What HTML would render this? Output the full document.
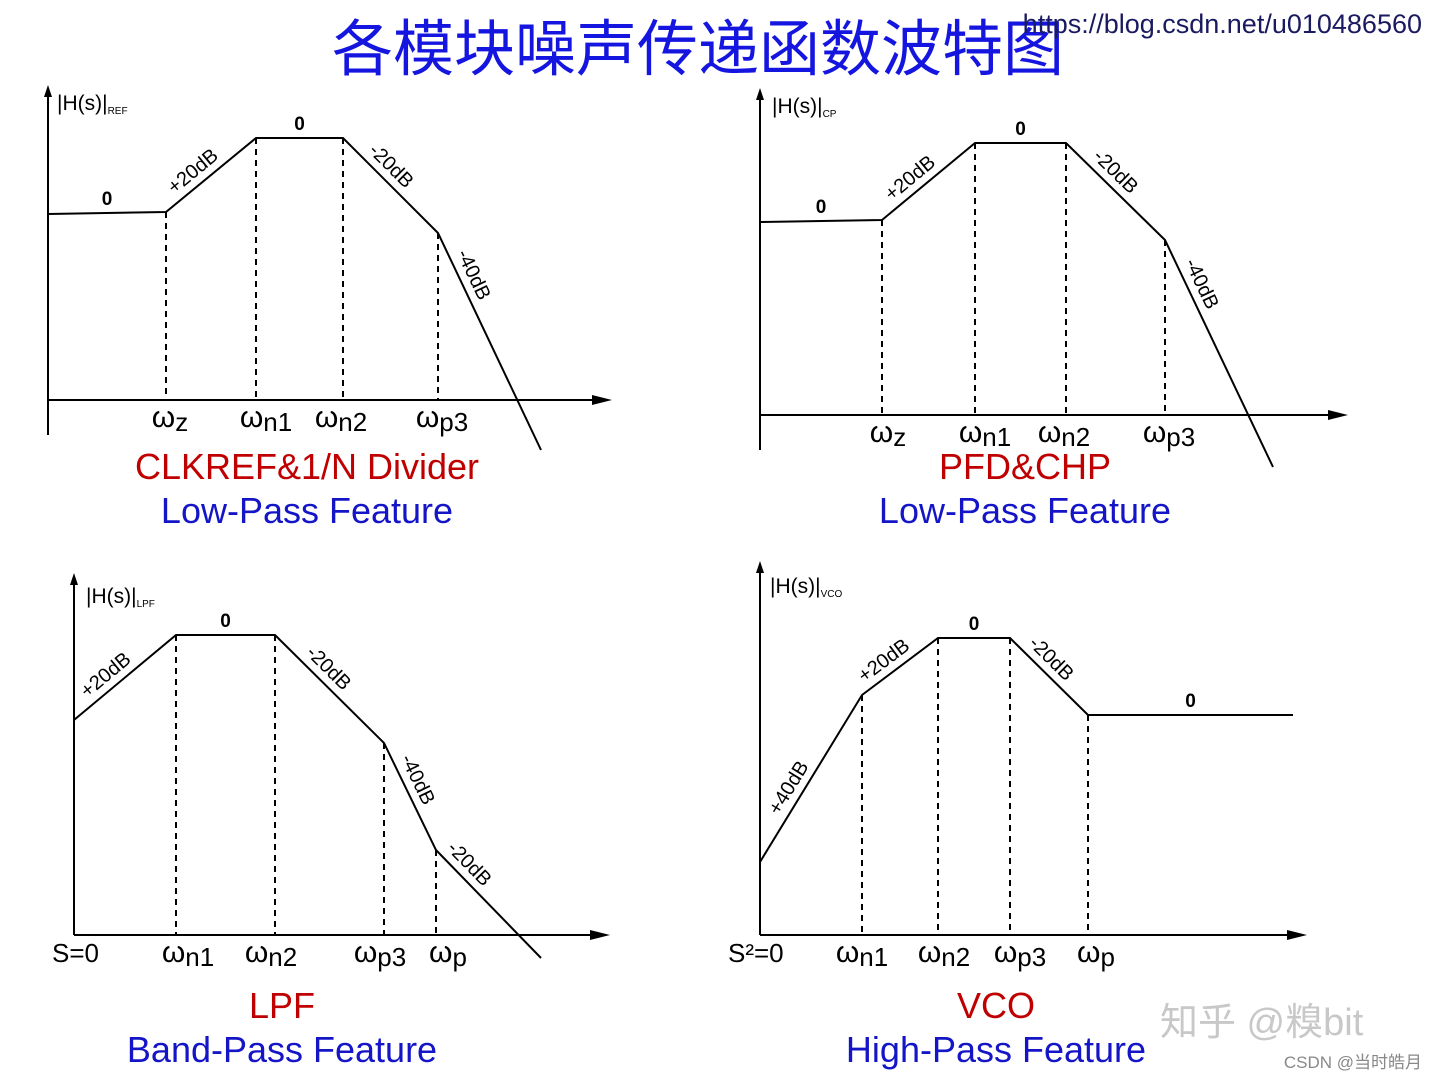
<!DOCTYPE html>
<html><head><meta charset="utf-8"><style>
body{margin:0;background:#fff;width:1437px;height:1080px;overflow:hidden}
svg{display:block}
text{font-family:"Liberation Sans","Noto Sans CJK SC",sans-serif}
</style></head><body>
<svg id="c" width="1437" height="1080" viewBox="0 0 1437 1080">
<text x="698" y="70" text-anchor="middle" font-size="61" fill="#1515e0">各模块噪声传递函数波特图</text>
<text x="1422" y="33" text-anchor="end" font-size="27" fill="#1a1a60">https://blog.csdn.net/u010486560</text>
<text x="1160" y="1035" font-size="38" fill="#c8c8c8">知乎 @糗bit</text>
<text x="1422" y="1068" text-anchor="end" font-size="17" fill="#888">CSDN @当时皓月</text>
</svg>
<script>
// Panel 1: CLKREF breakpoints (x in abstract freq units, y in gain units)
const p1X=[0,11.8,20.8,29.5,39,49.3];
const p1Y=[18.6,18.8,26.2,26.2,16.7,-5];
const p1Ticks=["ωz","ωn1","ωn2","ωp3"];
const p1Slopes=["+20dB","-20dB","-40dB"];
// Panel 2: PFD&CHP
const p2X=[0,12.2,21.5,30.6,40.5,51.3];
const p2Y=[19.3,19.5,27.2,27.2,17.5,-5.2];
const p2Ticks=["ωz","ωn1","ωn2","ωp3"];
const p2Slopes=["+20dB","-20dB","-40dB"];
// Panel 3: LPF
const p3X=[0,10.2,20.1,31,36.2,46.7];
const p3Y=[21.5,30,30,19.2,8.5,-2.3];
const p3Ticks=["ωn1","ωn2","ωp3","ωp"];
const p3Slopes=["+20dB","-20dB","-40dB","-20dB"];
// Panel 4: VCO
const p4X=[0,10.2,17.8,25,32.8,53.3];
const p4Y=[7.3,24,29.7,29.7,22,22];
const p4Ticks=["ωn1","ωn2","ωp3","ωp"];
const p4Slopes=["+40dB","+20dB","-20dB"];

const NS="http://www.w3.org/2000/svg";
const svg=document.getElementById('c');
function el(tag,attrs,parent){const e=document.createElementNS(NS,tag);for(const k in attrs)e.setAttribute(k,attrs[k]);(parent||svg).appendChild(e);return e;}

const panels=[
 {X:p1X,Y:p1Y,ticks:p1Ticks,slopes:p1Slopes,ox:48,oy:400,top:85,right:612,bottom:435,sub:"REF",ylab:[57,110],zeroIdx:[0,2],dashIdx:[1,2,3,4],tickDx:[4,10,-2,4],red:"CLKREF&1/N Divider",blue:"Low-Pass Feature",cx:307,origin:null},
 {X:p2X,Y:p2Y,ticks:p2Ticks,slopes:p2Slopes,ox:760,oy:415,top:88,right:1348,bottom:450,sub:"CP",ylab:[772,113],zeroIdx:[0,2],dashIdx:[1,2,3,4],tickDx:[6,10,-2,4],red:"PFD&CHP",blue:"Low-Pass Feature",cx:1025,origin:null},
 {X:p3X,Y:p3Y,ticks:p3Ticks,slopes:p3Slopes,ox:74,oy:935,top:573,right:610,bottom:935,sub:"LPF",ylab:[86,603],zeroIdx:[1],dashIdx:[1,2,3,4],tickDx:[12,-4,-4,12],red:"LPF",blue:"Band-Pass Feature",cx:282,origin:"S=0"},
 {X:p4X,Y:p4Y,ticks:p4Ticks,slopes:p4Slopes,ox:760,oy:935,top:561,right:1307,bottom:935,sub:"VCO",ylab:[770,593],zeroIdx:[2,4],dashIdx:[1,2,3,4],tickDx:[0,6,10,8],red:"VCO",blue:"High-Pass Feature",cx:996,origin:"S²=0"}
];
const K=10;
panels.forEach((p,pi)=>{
 const g=el('g',{});
 
 
 const sx=v=>p.ox+v*K, sy=v=>p.oy-v*K;
 const ya=el('line',{x1:p.ox,y1:p.bottom,x2:p.ox,y2:p.top+10,stroke:'#000','stroke-width':2},g);
 
 el('polygon',{points:`${p.ox-4},${p.top+12} ${p.ox+4},${p.top+12} ${p.ox},${p.top}`,fill:'#000'},g);
 const xa=el('line',{x1:p.ox,y1:p.oy,x2:p.right-12,y2:p.oy,stroke:'#000','stroke-width':2},g);
 
 el('polygon',{points:`${p.right-20},${p.oy-5} ${p.right-20},${p.oy+5} ${p.right},${p.oy}`,fill:'#000'},g);
 const yl=el('text',{x:p.ylab[0],y:p.ylab[1],'font-size':21,fill:'#000'},g);
 
 yl.textContent='|H(s)|';
 const ts=el('tspan',{'font-size':10,dy:4},yl);ts.textContent=p.sub;
 p.dashIdx.forEach((i,k)=>{
  const d=el('line',{x1:sx(p.X[i]),y1:sy(p.Y[i]),x2:sx(p.X[i]),y2:p.oy,stroke:'#000','stroke-width':2,'stroke-dasharray':'6,5'},g);
  
  const t=el('text',{x:sx(p.X[i])+p.tickDx[k],y:p.oy+27,'text-anchor':'middle','font-size':30,fill:'#000'},g);
  
  const sym=p.ticks[k].charAt(0),rest=p.ticks[k].slice(1);
  t.textContent=sym;
  const r=el('tspan',{'font-size':26,dy:4},t);r.textContent=rest;
 });
 const pts=p.X.map((v,i)=>sx(v)+','+sy(p.Y[i])).join(' ');
 const c=el('polyline',{points:pts,fill:'none',stroke:'#000','stroke-width':2},g);
 
 p.zeroIdx.forEach(i=>{
  const x=(sx(p.X[i])+sx(p.X[i+1]))/2,y=(sy(p.Y[i])+sy(p.Y[i+1]))/2;
  const t=el('text',{x:x,y:y-8,'text-anchor':'middle','font-size':19,'font-weight':'bold',fill:'#000'},g);
  
  t.textContent='0';
 });
 let si=0;
 for(let i=0;i<p.X.length-1&&si<p.slopes.length;i++){
  if(Math.abs(p.Y[i]-p.Y[i+1])<1) continue;
  const x1=sx(p.X[i]),y1=sy(p.Y[i]),x2=sx(p.X[i+1]),y2=sy(p.Y[i+1]);
  const ang=Math.atan2(y2-y1,x2-x1)*180/Math.PI;
  const f=(i===p.X.length-2)?0.22:0.4;
  const mx=x1+(x2-x1)*f,my=y1+(y2-y1)*f;
  const t=el('text',{x:0,y:0,'text-anchor':'middle','font-size':20,fill:'#000',transform:`translate(${mx},${my}) rotate(${ang}) translate(0,-8)`},g);
  
  t.textContent=p.slopes[si];si++;
 }
 if(p.origin){
  const t=el('text',{x:p.ox-(pi===2?22:32),y:p.oy+27,'font-size':26,fill:'#000'},g);
  
  t.textContent=p.origin;
 }
 const r=el('text',{x:p.cx,y:pi<2?479:1018,'text-anchor':'middle','font-size':36,fill:'#c00000'},g);
 
 r.textContent=p.red;
 const b=el('text',{x:p.cx,y:pi<2?523:1062,'text-anchor':'middle','font-size':36,fill:'#1515c8'},g);
 
 b.textContent=p.blue;
});
</script>
</body></html>
